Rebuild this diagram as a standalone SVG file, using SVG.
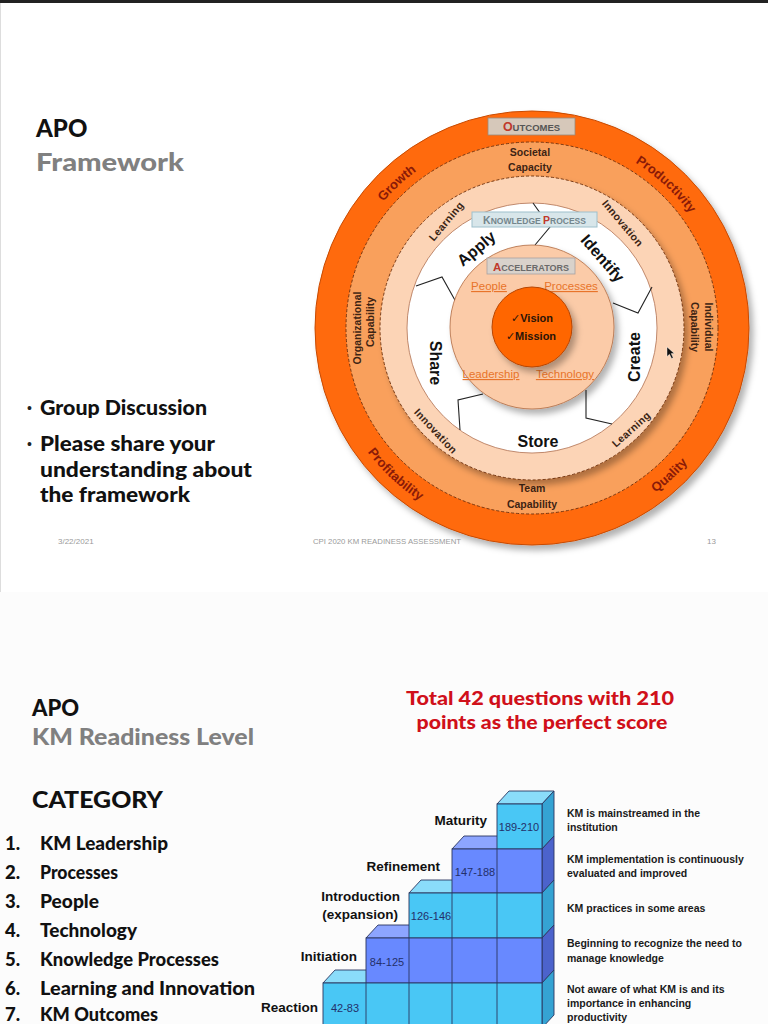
<svg xmlns="http://www.w3.org/2000/svg" width="768" height="1024" viewBox="0 0 768 1024">
<defs>
<style>
.hd{font-family:Lato,"Liberation Sans",sans-serif;font-weight:900;fill:#111}
.hg{font-family:Lato,"Liberation Sans",sans-serif;font-weight:900;fill:#808080}
.bl{font-family:Lato,"Liberation Sans",sans-serif;font-weight:900;fill:#111;font-size:20px}
.bu{font-family:"Liberation Sans",sans-serif;fill:#222;font-size:14px}
.li{font-family:Lato,"Liberation Sans",sans-serif;font-weight:900;fill:#111;font-size:18.5px}
.red{font-family:Lato,"Liberation Sans",sans-serif;font-weight:900;fill:#D0101A;font-size:18px;text-anchor:middle}
.ft{font-family:"Liberation Sans Narrow","Liberation Sans",sans-serif;font-size:8px;fill:#9a9a9a}
.ol{font-family:"Liberation Sans",sans-serif;font-weight:bold;font-size:13px;fill:#8A1A08}
.r2{font-family:"Liberation Sans",sans-serif;font-weight:bold;font-size:10.5px;fill:#3d2414;text-anchor:middle}
.r3{font-family:"Liberation Sans",sans-serif;font-weight:bold;font-size:10.5px;fill:#3a2414;text-anchor:middle;letter-spacing:0.4px}
.kp{font-family:"Liberation Sans",sans-serif;font-weight:bold;font-size:16px;fill:#111;text-anchor:middle}
.ac{font-family:"Liberation Sans",sans-serif;font-size:11.5px;fill:#E8742A;text-anchor:middle;text-decoration:underline}
.vm{font-family:"Liberation Sans","DejaVu Sans",sans-serif;font-weight:bold;font-size:11px;fill:#2a1408;text-anchor:middle}
.bx{font-family:"Liberation Sans",sans-serif;font-weight:bold;text-anchor:middle}
.lv{font-family:"Liberation Sans",sans-serif;font-weight:bold;font-size:13.5px;fill:#111;text-anchor:end}
.nm{font-family:"Liberation Sans Narrow","Liberation Sans",sans-serif;font-size:11px;fill:#24306A;text-anchor:middle}
.ds{font-family:"Liberation Sans",sans-serif;font-weight:bold;font-size:10.5px;fill:#1a1a1a}
.div{fill:none;stroke:#222;stroke-width:1.1}
.cf{fill:#49C7F5;stroke:#2A3560;stroke-width:0.9}
.bf{fill:#6889FF;stroke:#2A3560;stroke-width:0.9}
.ct{fill:#8ADCFA;stroke:#2A3560;stroke-width:0.9}
.bt{fill:#8DA5FF;stroke:#2A3560;stroke-width:0.9}
.cs{fill:#35A3D3;stroke:#2A3560;stroke-width:0.9}
.bs{fill:#4C63CC;stroke:#2A3560;stroke-width:0.9}
.vl{stroke:#2A3560;stroke-width:0.9}
</style>
<filter id="sh" x="-20%" y="-20%" width="150%" height="150%">
<feDropShadow dx="4" dy="5" stdDeviation="3" flood-color="#000" flood-opacity="0.3"/>
</filter>
<path id="pGrowth" d="M338.5,304.2 A195,195 0 0 1 521.8,133.3"/>
<path id="pProd" d="M542.2,133.3 A195,195 0 0 1 725.5,304.2"/>
<path id="pProf" d="M327.5,353.1 A206,206 0 0 0 521.2,533.7"/>
<path id="pQual" d="M542.8,533.7 A206,206 0 0 0 736.5,353.1"/>
</defs>

<!-- backgrounds -->
<rect width="768" height="1024" fill="#fcfcfc"/>
<rect x="0" y="0" width="768" height="592" fill="#ffffff"/>
<line x1="0.5" y1="3" x2="0.5" y2="592" stroke="#dddddd"/>
<rect x="0" y="0" width="768" height="3" fill="#222"/>

<!-- top slide left text -->
<g id="title-top">
<text class="hd" x="36" y="137" font-size="24">APO</text>
<text class="hg" x="36" y="171" font-size="25" textLength="148" lengthAdjust="spacingAndGlyphs">Framework</text>
</g>
<g id="bullets">
<text class="bu" x="27" y="413">•</text>
<text class="bl" x="40" y="415" textLength="167" lengthAdjust="spacingAndGlyphs">Group Discussion</text>
<text class="bu" x="27" y="449">•</text>
<text class="bl" x="40" y="451" textLength="175" lengthAdjust="spacingAndGlyphs">Please share your</text>
<text class="bl" x="40" y="477" textLength="212" lengthAdjust="spacingAndGlyphs">understanding about</text>
<text class="bl" x="40" y="502" textLength="150" lengthAdjust="spacingAndGlyphs">the framework</text>
</g>

<!-- framework circles -->
<g id="outcomes-ring">
<circle cx="532" cy="328" r="217" fill="#FF6A10" stroke="#C84A00" stroke-width="1" filter="url(#sh)"/>
<text class="ol"><textPath href="#pGrowth" startOffset="50%" text-anchor="middle">Growth</textPath></text>
<text class="ol"><textPath href="#pProd" startOffset="50%" text-anchor="middle">Productivity</textPath></text>
<text class="ol"><textPath href="#pProf" startOffset="50%" text-anchor="middle">Profitability</textPath></text>
<text class="ol"><textPath href="#pQual" startOffset="50%" text-anchor="middle">Quality</textPath></text>
<rect x="488" y="118" width="87" height="17" fill="#D6C8BA" stroke="#9a8a7c" stroke-width="0.8"/>
<text class="bx" x="531.5" y="131" fill="#555"><tspan fill="#C0392B" font-size="12.5">O</tspan><tspan font-size="9.5">UTCOMES</tspan></text>
</g>

<g id="capability-ring">
<circle cx="532" cy="328" r="186" fill="#F9A05C" stroke="#6a3010" stroke-width="0.9" stroke-dasharray="3 2"/>
<text class="r2" x="530" y="156">Societal</text>
<text class="r2" x="530" y="171">Capacity</text>
<text class="r2" transform="translate(361,328) rotate(-90)">Organizational</text>
<text class="r2" transform="translate(374,322) rotate(-90)">Capability</text>
<text class="r2" transform="translate(705,327) rotate(90)">Individual</text>
<text class="r2" transform="translate(691,327) rotate(90)">Capability</text>
<text class="r2" x="532" y="492">Team</text>
<text class="r2" x="532" y="508">Capability</text>
</g>

<g id="learning-ring">
<circle cx="532" cy="328" r="152" fill="#FCD4B6" stroke="#6a3010" stroke-width="0.9" stroke-dasharray="3 2" filter="url(#sh)"/>
<text class="r3" transform="translate(446,221) rotate(-50)" y="4">Learning</text>
<text class="r3" transform="translate(623,223) rotate(50)" y="4">Innovation</text>
<text class="r3" transform="translate(436,431) rotate(47)" y="4">Innovation</text>
<text class="r3" transform="translate(631,429) rotate(-42)" y="4">Learning</text>
</g>

<g id="knowledge-process">
<circle cx="532" cy="328" r="125" fill="#ffffff" stroke="#B07050" stroke-width="0.8"/>
<path class="div" d="M533,203 L550,227 L535,245"/>
<path class="div" d="M416,286 L442,277 L456,302"/>
<path class="div" d="M652,287 L638,313 L613,303"/>
<path class="div" d="M460,430 L458,400 L483,394"/>
<path class="div" d="M586,390 L586,418 L612,424"/>
<rect x="472" y="212" width="125" height="15" fill="#D8E6EA" stroke="#9EC0CC" stroke-width="1"/>
<text class="bx" x="534.5" y="224" fill="#74858C"><tspan font-size="10.5">K</tspan><tspan font-size="8.5">NOWLEDGE </tspan><tspan font-size="10.5" fill="#C0392B">P</tspan><tspan font-size="8.5">ROCESS</tspan></text>
<text class="kp" transform="translate(476,248) rotate(-40)" y="6">Apply</text>
<text class="kp" transform="translate(603,258) rotate(49)" y="6">Identify</text>
<text class="kp" transform="translate(436,363) rotate(90)" y="6">Share</text>
<text class="kp" transform="translate(634,357) rotate(-90)" y="6">Create</text>
<text class="kp" x="538" y="447" font-weight="normal">Store</text>
</g>

<g id="accelerators">
<circle cx="532" cy="327" r="82" fill="#FBCBA8" stroke="#B06A40" stroke-width="0.8" filter="url(#sh)"/>
<rect x="487" y="258" width="88" height="16" fill="#D9D2CB" stroke="#A8A0A0" stroke-width="0.8"/>
<text class="bx" x="531" y="270.5" fill="#6a6a6a"><tspan font-size="11.5" fill="#C0392B">A</tspan><tspan font-size="9">CCELERATORS</tspan></text>
<text class="ac" x="489" y="290">People</text>
<text class="ac" x="571" y="290">Processes</text>
<text class="ac" x="491" y="378">Leadership</text>
<text class="ac" x="565" y="378">Technology</text>
</g>

<g id="vision-mission">
<circle cx="532" cy="327" r="40" fill="#FF6600" stroke="#B84500" stroke-width="1" filter="url(#sh)"/>
<text class="vm" x="532" y="322">✓Vision</text>
<text class="vm" x="531" y="340">✓Mission</text>
</g>

<path d="M667,347 L667,356.5 L669.5,354.3 L671.6,358.6 L673.2,357.8 L671.2,353.6 L674.3,353.4 Z" fill="#111" stroke="#fff" stroke-width="0.4"/>

<g id="footer">
<text class="ft" x="58" y="544">3/22/2021</text>
<text class="ft" x="313" y="544" textLength="148" lengthAdjust="spacingAndGlyphs">CPI 2020 KM READINESS ASSESSMENT</text>
<text class="ft" x="707" y="544">13</text>
</g>

<!-- bottom slide -->
<g id="title-bottom">
<text class="hd" x="32" y="716" font-size="22">APO</text>
<text class="hg" x="32" y="745" font-size="22" textLength="222" lengthAdjust="spacingAndGlyphs">KM Readiness Level</text>
<text class="red" x="540" y="705" textLength="268" lengthAdjust="spacingAndGlyphs">Total 42 questions with 210</text>
<text class="red" x="542" y="729" textLength="251" lengthAdjust="spacingAndGlyphs">points as the perfect score</text>
</g>

<g id="category-list">
<text class="hd" x="32" y="808" font-size="22" textLength="131" lengthAdjust="spacingAndGlyphs">CATEGORY</text>
<text class="li" x="5" y="850">1.</text><text class="li" x="40" y="850" textLength="128" lengthAdjust="spacingAndGlyphs">KM Leadership</text>
<text class="li" x="5" y="879">2.</text><text class="li" x="40" y="879" textLength="78" lengthAdjust="spacingAndGlyphs">Processes</text>
<text class="li" x="5" y="908">3.</text><text class="li" x="40" y="908" textLength="59" lengthAdjust="spacingAndGlyphs">People</text>
<text class="li" x="5" y="937">4.</text><text class="li" x="40" y="937" textLength="97" lengthAdjust="spacingAndGlyphs">Technology</text>
<text class="li" x="5" y="966">5.</text><text class="li" x="40" y="966" textLength="179" lengthAdjust="spacingAndGlyphs">Knowledge Processes</text>
<text class="li" x="5" y="995">6.</text><text class="li" x="40" y="995" textLength="215" lengthAdjust="spacingAndGlyphs">Learning and Innovation</text>
<text class="li" x="5" y="1021">7.</text><text class="li" x="40" y="1021" textLength="118" lengthAdjust="spacingAndGlyphs">KM Outcomes</text>
</g>

<g id="staircase">
<polygon class="ct" points="323,983 335,970 378,970 366,983"/>
<polygon class="bt" points="366,938 378,925 421,925 409,938"/>
<polygon class="ct" points="409,893 421,880 464,880 452,893"/>
<polygon class="bt" points="452,849 464,836 509,836 497,849"/>
<polygon class="ct" points="497,804 509,791 554,791 542,804"/>
<polygon class="cs" points="542,804 554,791 554,836 542,849"/>
<polygon class="bs" points="542,849 554,836 554,880 542,893"/>
<polygon class="cs" points="542,893 554,880 554,925 542,938"/>
<polygon class="bs" points="542,938 554,925 554,970 542,983"/>
<polygon class="cs" points="542,983 554,970 554,1015 542,1028"/>
<rect class="cf" x="497" y="804" width="45" height="45"/>
<rect class="bf" x="452" y="849" width="90" height="44"/>
<rect class="cf" x="409" y="893" width="133" height="45"/>
<rect class="bf" x="366" y="938" width="176" height="45"/>
<rect class="cf" x="323" y="983" width="219" height="45"/>
<line class="vl" x1="366" y1="983" x2="366" y2="1028"/>
<line class="vl" x1="409" y1="938" x2="409" y2="1028"/>
<line class="vl" x1="452" y1="893" x2="452" y2="1028"/>
<line class="vl" x1="497" y1="849" x2="497" y2="1028"/>
</g>

<g id="level-labels">
<text class="lv" x="487" y="825">Maturity</text>
<text class="lv" x="440" y="871">Refinement</text>
<text class="lv" x="400" y="901">Introduction</text>
<text class="lv" x="398" y="919">(expansion)</text>
<text class="lv" x="357" y="961">Initiation</text>
<text class="lv" x="318" y="1012">Reaction</text>
<text class="nm" x="519" y="831">189-210</text>
<text class="nm" x="475" y="876">147-188</text>
<text class="nm" x="431" y="920">126-146</text>
<text class="nm" x="387" y="966">84-125</text>
<text class="nm" x="345" y="1012">42-83</text>
</g>

<g id="level-descriptions">
<text class="ds" x="567" y="817">KM is mainstreamed in the</text>
<text class="ds" x="567" y="831">institution</text>
<text class="ds" x="567" y="863">KM implementation is continuously</text>
<text class="ds" x="567" y="877">evaluated and improved</text>
<text class="ds" x="567" y="912">KM practices in some areas</text>
<text class="ds" x="567" y="947">Beginning to recognize the need to</text>
<text class="ds" x="567" y="962">manage knowledge</text>
<text class="ds" x="567" y="993">Not aware of what KM is and its</text>
<text class="ds" x="567" y="1007">importance in enhancing</text>
<text class="ds" x="567" y="1021">productivity</text>
</g>
</svg>
